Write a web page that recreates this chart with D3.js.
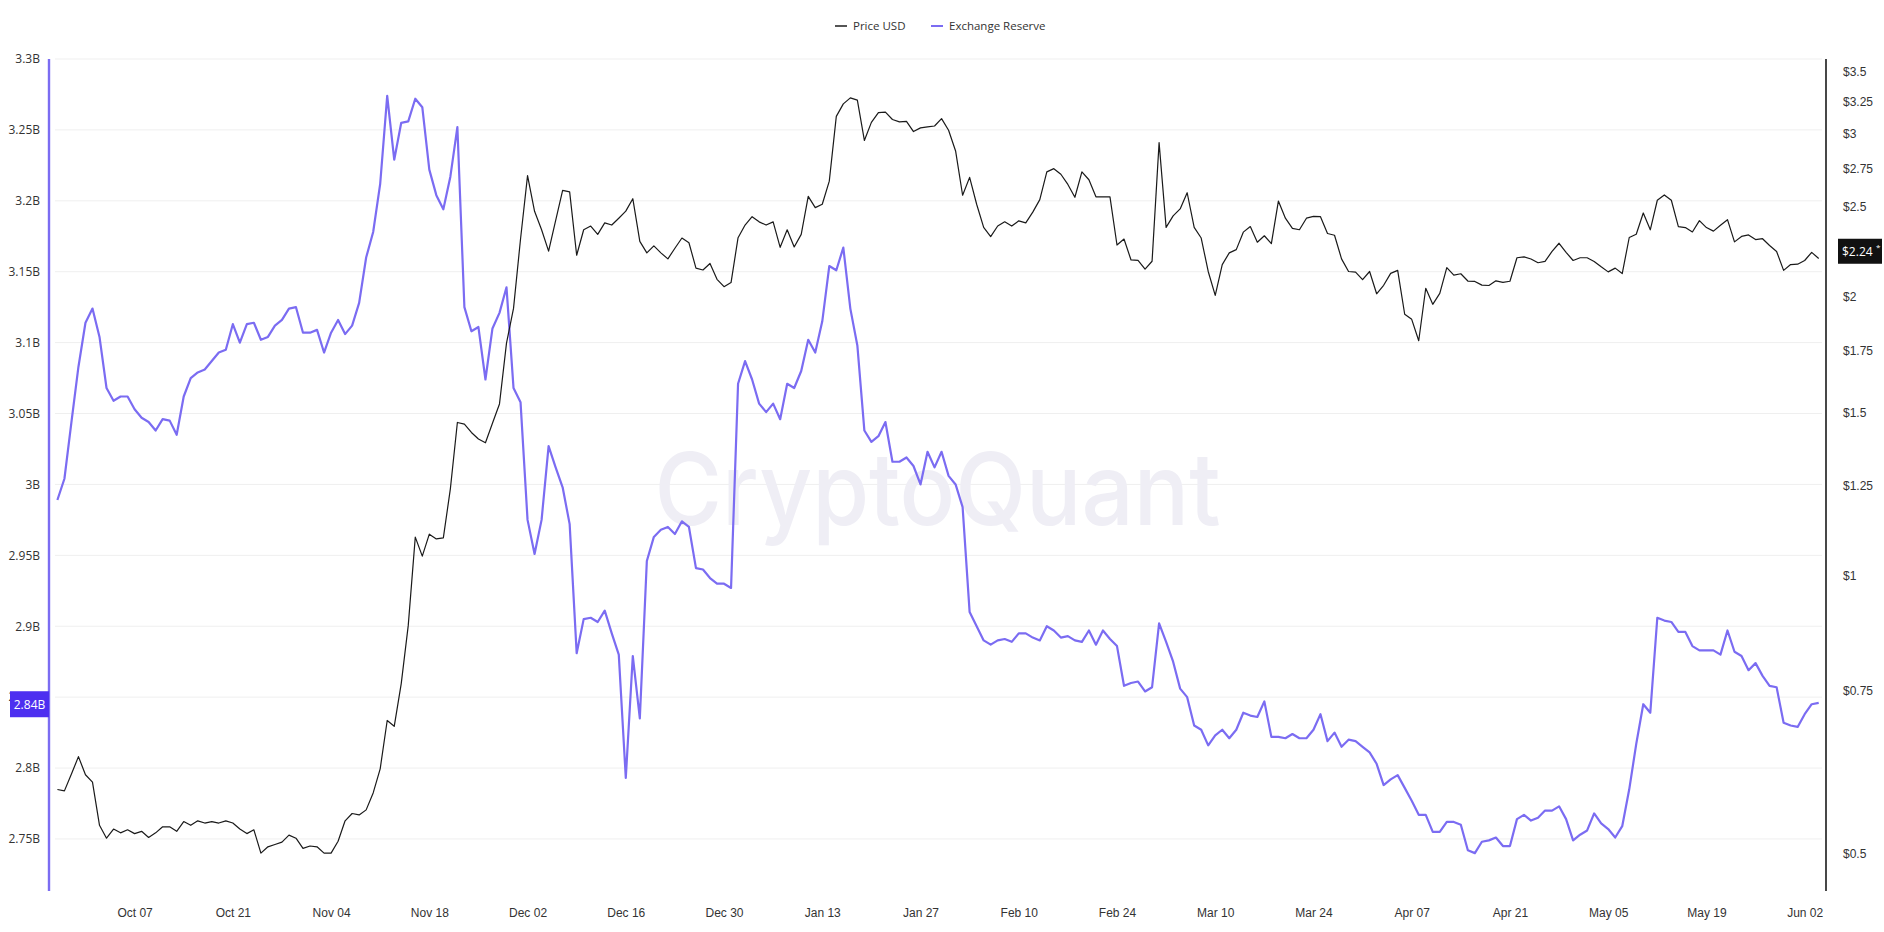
<!DOCTYPE html>
<html><head><meta charset="utf-8">
<script src="https://cdn.jsdelivr.net/npm/d3@7"></script>
<style>
body{margin:0;background:#fff;}
svg{display:block;font-family:"Open Sans","Noto Sans",sans-serif;}
</style>
</head><body>
<svg id="chart" width="1884" height="932"></svg>
<script>
// ---------- DATA ----------
const startDate = "2024-09-26"; // first daily observation
const priceUSD = [
0.587,0.585,0.610,0.637,0.609,0.598,0.537,0.520,0.532,0.527,
0.531,0.526,0.529,0.521,0.527,0.535,0.535,0.529,0.542,0.537,
0.543,0.540,0.542,0.540,0.543,0.540,0.532,0.526,0.531,0.501,
0.509,0.512,0.515,0.524,0.520,0.507,0.510,0.509,0.501,0.501,
0.516,0.543,0.553,0.551,0.558,0.582,0.618,0.697,0.687,0.764,
0.883,1.100,1.049,1.108,1.095,1.098,1.240,1.463,1.457,1.427,
1.404,1.391,1.460,1.532,1.782,1.943,2.309,2.704,2.474,2.363,
2.241,2.418,2.606,2.597,2.218,2.363,2.385,2.336,2.404,2.391,
2.432,2.475,2.553,2.296,2.231,2.270,2.231,2.198,2.257,2.315,
2.288,2.148,2.138,2.173,2.089,2.051,2.072,2.317,2.391,2.441,
2.410,2.391,2.410,2.262,2.363,2.264,2.336,2.568,2.497,2.518,
2.667,3.133,3.232,3.281,3.262,2.951,3.087,3.163,3.166,3.109,
3.091,3.094,3.017,3.045,3.052,3.059,3.116,3.027,2.875,2.575,
2.692,2.518,2.377,2.323,2.385,2.410,2.385,2.416,2.404,2.469,
2.547,2.729,2.751,2.713,2.645,2.562,2.729,2.676,2.565,2.565,
2.565,2.275,2.309,2.192,2.190,2.143,2.185,2.935,2.377,2.446,
2.489,2.591,2.377,2.315,2.130,2.007,2.167,2.231,2.249,2.349,
2.382,2.291,2.328,2.283,2.538,2.432,2.371,2.363,2.432,2.443,
2.441,2.341,2.331,2.198,2.130,2.127,2.087,2.130,2.015,2.058,
2.120,2.136,1.915,1.891,1.793,2.043,1.963,2.017,2.151,2.111,
2.118,2.080,2.078,2.059,2.057,2.081,2.073,2.079,2.204,2.209,
2.197,2.177,2.184,2.239,2.285,2.234,2.189,2.204,2.204,2.184,
2.155,2.128,2.148,2.119,2.318,2.337,2.464,2.363,2.543,2.577,
2.543,2.382,2.376,2.350,2.417,2.376,2.355,2.390,2.423,2.293,
2.324,2.333,2.306,2.311,2.272,2.239,2.136,2.167,2.169,2.189,
2.234,2.200
];
const exchangeReserveB = [
2.989,3.004,3.044,3.083,3.114,3.124,3.104,3.068,3.059,3.062,
3.062,3.053,3.047,3.044,3.038,3.046,3.045,3.035,3.062,3.075,
3.079,3.081,3.087,3.093,3.095,3.113,3.100,3.113,3.114,3.102,
3.104,3.112,3.116,3.124,3.125,3.107,3.107,3.109,3.093,3.107,
3.116,3.106,3.112,3.128,3.160,3.178,3.212,3.274,3.229,3.255,
3.256,3.272,3.266,3.222,3.204,3.194,3.217,3.252,3.125,3.108,
3.111,3.074,3.110,3.121,3.139,3.068,3.058,2.975,2.951,2.975,
3.027,3.012,2.998,2.972,2.881,2.905,2.906,2.903,2.911,2.895,
2.880,2.793,2.879,2.835,2.946,2.963,2.968,2.970,2.965,2.974,
2.970,2.941,2.940,2.934,2.930,2.930,2.927,3.071,3.087,3.074,
3.057,3.051,3.057,3.046,3.071,3.068,3.080,3.102,3.093,3.115,
3.154,3.151,3.167,3.124,3.098,3.038,3.030,3.034,3.044,3.016,
3.016,3.019,3.013,3.000,3.023,3.012,3.023,3.006,3.000,2.984,
2.910,2.900,2.890,2.887,2.890,2.891,2.889,2.895,2.895,2.892,
2.890,2.900,2.897,2.892,2.893,2.890,2.889,2.897,2.887,2.897,
2.891,2.886,2.858,2.860,2.861,2.854,2.857,2.902,2.889,2.875,
2.856,2.850,2.830,2.827,2.816,2.823,2.827,2.821,2.827,2.839,
2.837,2.836,2.847,2.822,2.822,2.821,2.824,2.821,2.821,2.827,
2.838,2.819,2.825,2.815,2.820,2.819,2.815,2.811,2.803,2.788,
2.792,2.795,2.786,2.777,2.767,2.767,2.755,2.755,2.762,2.762,
2.760,2.742,2.740,2.748,2.749,2.751,2.745,2.745,2.764,2.767,
2.763,2.765,2.770,2.770,2.773,2.764,2.749,2.753,2.756,2.768,
2.761,2.757,2.751,2.759,2.785,2.817,2.845,2.839,2.906,2.904,
2.903,2.896,2.896,2.886,2.883,2.883,2.883,2.880,2.897,2.882,
2.879,2.869,2.874,2.865,2.858,2.857,2.832,2.830,2.829,2.838,
2.845,2.846
];
const xTickDates = ["2024-10-07","2024-10-21","2024-11-04","2024-11-18","2024-12-02","2024-12-16","2024-12-30","2025-01-13","2025-01-27","2025-02-10","2025-02-24","2025-03-10","2025-03-24","2025-04-07","2025-04-21","2025-05-05","2025-05-19","2025-06-02"];
const xTickLabels = ["Oct 07","Oct 21","Nov 04","Nov 18","Dec 02","Dec 16","Dec 30","Jan 13","Jan 27","Feb 10","Feb 24","Mar 10","Mar 24","Apr 07","Apr 21","May 05","May 19","Jun 02"];
const leftTickValues = [2.75,2.8,2.85,2.9,2.95,3,3.05,3.1,3.15,3.2,3.25,3.3];
const leftTickLabels = ["2.75B","2.8B","2.85B","2.9B","2.95B","3B","3.05B","3.1B","3.15B","3.2B","3.25B","3.3B"];
const rightTickValues = [0.5,0.75,1,1.25,1.5,1.75,2,2.25,2.5,2.75,3,3.25,3.5];
const rightTickLabels = ["$0.5","$0.75","$1","$1.25","$1.5","$1.75","$2","$2.25","$2.5","$2.75","$3","$3.25","$3.5"];
const seriesNames = ["Price USD","Exchange Reserve"];
const lastReserve = {value: 2.845, label: "2.84B"};
const lastPrice = {value: 2.24, label: "$2.24"};

// ---------- LAYOUT ----------
const PL = 49, PR = 1826, PT = 59, PB = 891;
const purple = "#7b6cf2", black = "#1a1a1a";

const parse = d3.utcParse("%Y-%m-%d");
const t0 = parse(startDate);
const DAY = 864e5;
const dates = priceUSD.map((_, i) => d3.utcDay.offset(t0, i));

const x = d3.scaleUtc()
  .domain([new Date(t0.getTime() - 1.197 * DAY), new Date(t0.getTime() + 252.04 * DAY)])
  .range([PL, PR]);
const yL = d3.scaleLinear().domain([2.7133, 3.3]).range([PB, PT]);
const yR = d3.scaleLog().domain([0.456, 3.614]).range([PB, PT]);

const svg = d3.select("#chart");

// gridlines
svg.append("g").selectAll("line").data(leftTickValues).join("line")
  .attr("x1", PL + 6).attr("x2", PR - 4)
  .attr("y1", d => yL(d)).attr("y2", d => yL(d))
  .attr("stroke", "#efefef").attr("stroke-width", 1);

// watermark
svg.append("text").attr("x", (PL + PR) / 2).attr("y", 525)
  .attr("text-anchor", "middle")
  .attr("font-family", "Inter, 'Open Sans', sans-serif")
  .attr("font-weight", 500).attr("font-size", 100)
  .attr("textLength", 566).attr("lengthAdjust", "spacingAndGlyphs")
  .attr("fill", "#efeef5").text("CryptoQuant");

// left axis (the 2.85B label sits under the last-value badge, as in the original)
const axL = d3.axisLeft(yL).tickValues(leftTickValues)
  .tickFormat((d, i) => leftTickLabels[i]).tickSize(0).tickPadding(9);
const gL = svg.append("g").attr("transform", `translate(${PL},0)`).call(axL);
gL.select(".domain").remove();
gL.selectAll("text").attr("font-size", 12).attr("fill", "#333").attr("font-family", "'Open Sans', sans-serif");
svg.append("line").attr("x1", PL).attr("x2", PL).attr("y1", PT).attr("y2", PB)
  .attr("stroke", purple).attr("stroke-width", 2.4);

// right axis
const axR = d3.axisRight(yR).tickValues(rightTickValues)
  .tickFormat((d, i) => rightTickLabels[i]).tickSize(0).tickPadding(17);
const gR = svg.append("g").attr("transform", `translate(${PR},0)`).call(axR);
gR.select(".domain").remove();
gR.selectAll("text").attr("font-size", 12).attr("fill", "#333");
svg.append("line").attr("x1", PR).attr("x2", PR).attr("y1", PT).attr("y2", PB)
  .attr("stroke", black).attr("stroke-width", 1.6);

// bottom axis
const axB = d3.axisBottom(x).tickValues(xTickDates.map(parse))
  .tickFormat((d, i) => xTickLabels[i]).tickSize(0).tickPadding(0);
const gB = svg.append("g").attr("transform", `translate(0,${PB + 17})`).call(axB);
gB.select(".domain").remove();
gB.selectAll("text").attr("font-size", 12).attr("fill", "#333");

// lines
const lineR = d3.line().x((d, i) => x(dates[i])).y(d => yL(d));
const lineP = d3.line().x((d, i) => x(dates[i])).y(d => yR(d));
svg.append("path").datum(exchangeReserveB).attr("d", lineR)
  .attr("fill", "none").attr("stroke", purple).attr("stroke-width", 2.2)
  .attr("stroke-linejoin", "round");
svg.append("path").datum(priceUSD).attr("d", lineP)
  .attr("fill", "none").attr("stroke", black).attr("stroke-width", 1.2)
  .attr("stroke-linejoin", "round");

// last value labels
const yl = yL(lastReserve.value);
svg.append("rect").attr("x", 10).attr("y", yl - 13).attr("width", PL - 10).attr("height", 26)
  .attr("fill", "#4d2ff0");
svg.append("text").attr("x", 29.5).attr("y", yl + 4.5).attr("text-anchor", "middle")
  .attr("font-size", 12).attr("fill", "#fff").text(lastReserve.label);
const yp = yR(lastPrice.value);
svg.append("rect").attr("x", PR + 12).attr("y", yp - 12.5).attr("width", 44).attr("height", 25)
  .attr("fill", "#111");
svg.append("text").attr("x", PR + 16).attr("y", yp + 4.5)
  .attr("font-size", 12).attr("fill", "#fff").text(lastPrice.label);
svg.append("text").attr("x", PR + 50).attr("y", yp - 1)
  .attr("font-size", 8).attr("fill", "#fff").text("*");

// legend
const legend = svg.append("g").attr("transform", "translate(0,26)");
const legItems = [{name: seriesNames[0], color: "#555", x: 835}, {name: seriesNames[1], color: purple, x: 931}];
legItems.forEach(it => {
  legend.append("line").attr("x1", it.x).attr("x2", it.x + 12).attr("y1", 0).attr("y2", 0)
    .attr("stroke", it.color).attr("stroke-width", 2);
  legend.append("text").attr("x", it.x + 18).attr("y", 4).attr("font-size", 11.5)
    .attr("fill", "#333").text(it.name);
});
</script>
</body></html>
